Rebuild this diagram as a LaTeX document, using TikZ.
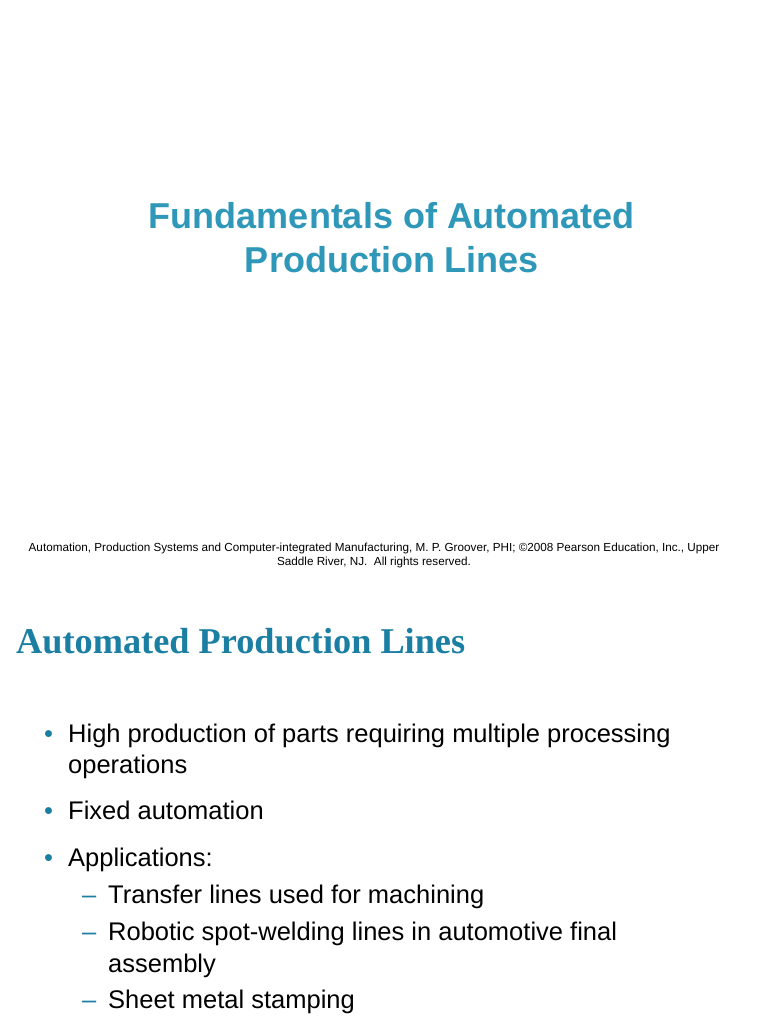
\documentclass[tikz,border=0pt]{standalone}
\usepackage{fontspec}
\setmainfont{Liberation Sans}
\newfontfamily\serif{Liberation Serif}
\definecolor{ttl}{HTML}{2F97B8}
\definecolor{hd}{HTML}{1B7FA3}
\begin{document}
\begin{tikzpicture}[x=1pt,y=-1pt,
  txt/.style={anchor=base west,font=\fontsize{25.5}{30}\selectfont,inner sep=0pt}]
\useasboundingbox (0,0) rectangle (768,1024);
\fill[white] (0,0) rectangle (768,1024);
\node[align=center,text=ttl,font=\fontsize{36}{44}\selectfont\bfseries] (title) at (392,238) {Fundamentals of Automated\\Production Lines};
\node[align=center,font=\fontsize{11.7}{14}\selectfont] (cite) at (374,555) {Automation, Production Systems and Computer-integrated Manufacturing, M. P. Groover, PHI; \textcopyright2008 Pearson Education, Inc., Upper\\Saddle River, NJ.\ \ All rights reserved.};
\node[anchor=base west,inner sep=0pt,text=hd,font=\serif\bfseries\fontsize{36.3}{40}\selectfont] (head) at (16,653) {Automated Production Lines};
\node[txt,text=hd] (b1) at (44,742) {\textbullet};
\node[txt] (t1) at (68,742) {High production of parts requiring multiple processing};
\node[txt] (t1b) at (68,773) {operations};
\node[txt,text=hd] (b2) at (44,819) {\textbullet};
\node[txt] (t2) at (68,819) {Fixed automation};
\node[txt,text=hd] (b3) at (44,866) {\textbullet};
\node[txt] (t3) at (68,866) {Applications:};
\node[txt,text=hd] (d1) at (82,903) {--};
\node[txt] (s1) at (108,903) {Transfer lines used for machining};
\node[txt,text=hd] (d2) at (82,940) {--};
\node[txt] (s2) at (108,940) {Robotic spot-welding lines in automotive final};
\node[txt] (s2b) at (108,972) {assembly};
\node[txt,text=hd] (d3) at (82,1008) {--};
\node[txt] (s3) at (108,1008) {Sheet metal stamping};
\end{tikzpicture}
\end{document}
